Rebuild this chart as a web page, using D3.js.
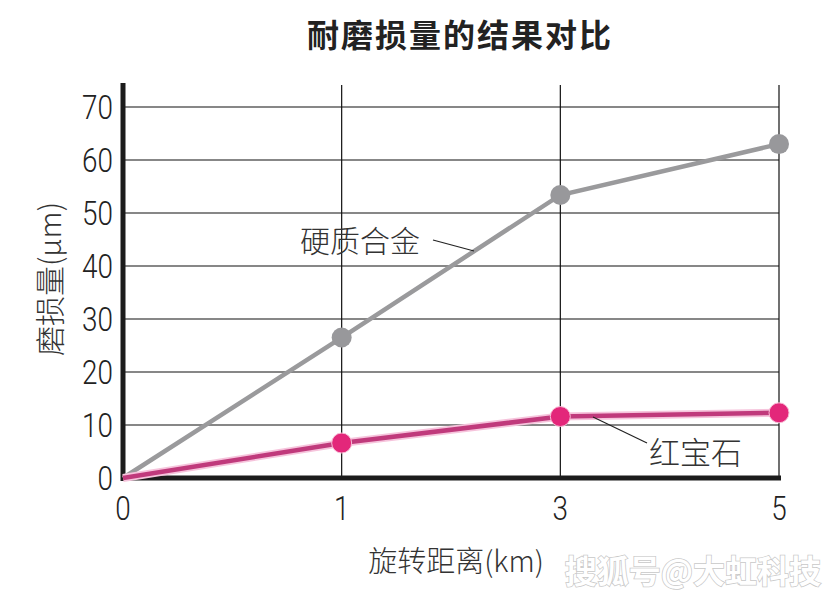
<!DOCTYPE html>
<html>
<head>
<meta charset="utf-8">
<script src="https://cdn.jsdelivr.net/npm/d3@7"></script>
<style>
  body { margin: 0; background: #fff; }
  .cjk { font-family: "Noto Sans CJK SC", "Noto Sans", sans-serif; }
  .num { font-family: "Liberation Sans Narrow", "Roboto", "DejaVu Sans", sans-serif; font-weight: 300; }
</style>
</head>
<body>
<div class="chart"></div>
<script>
// data
const distances = ["0", "1", "3", "5"];
const yTicks = [0, 10, 20, 30, 40, 50, 60, 70];
const alloyValues = [0, 26.5, 53.4, 63.0];
const rubyValues = [0, 6.6, 11.6, 12.3];
const titleText = "耐磨损量的结果对比";
const xTitle = "旋转距离(km)";
const yTitle = "磨损量(μm)";
const alloyName = "硬质合金";
const rubyName = "红宝石";
const watermark = "搜狐号@大虹科技";

const W = 834, H = 595;
const svg = d3.select(".chart").append("svg")
    .attr("width", W)
    .attr("height", H);

const x = d3.scalePoint()
    .domain(distances)
    .range([123, 779]);

const y = d3.scaleLinear()
    .domain([0, 70])
    .range([478, 107]);

// title
svg.append("text")
    .attr("class", "cjk")
    .attr("x", 460)
    .attr("y", 47)
    .attr("text-anchor", "middle")
    .attr("font-size", "32px")
    .attr("font-weight", "bold")
    .attr("letter-spacing", "2px")
    .attr("fill", "#222")
    .text(titleText);

// horizontal grid
svg.append("g")
    .selectAll("line")
    .data(yTicks.filter(d => d > 0))
    .enter().append("line")
    .attr("x1", x("0"))
    .attr("x2", x("5"))
    .attr("y1", d => y(d))
    .attr("y2", d => y(d))
    .attr("stroke", "#111")
    .attr("stroke-width", 1.2);

// vertical grid
svg.append("g")
    .selectAll("line")
    .data(distances.slice(1))
    .enter().append("line")
    .attr("x1", d => x(d))
    .attr("x2", d => x(d))
    .attr("y1", 85)
    .attr("y2", y(0))
    .attr("stroke", "#111")
    .attr("stroke-width", 1.2);

// axes (thick)
svg.append("line")
    .attr("x1", x("0")).attr("x2", x("0"))
    .attr("y1", 83).attr("y2", y(0) + 3)
    .attr("stroke", "#1c1c1c")
    .attr("stroke-width", 5);
svg.append("line")
    .attr("x1", x("0") - 2).attr("x2", x("5") + 2)
    .attr("y1", y(0)).attr("y2", y(0))
    .attr("stroke", "#1c1c1c")
    .attr("stroke-width", 5);

// y tick labels
svg.append("g")
    .selectAll("text")
    .data(yTicks)
    .enter().append("text")
    .attr("class", "num")
    .attr("transform", d => `translate(113,${y(d) + 12}) scale(0.82,1)`)
    .attr("text-anchor", "end")
    .attr("font-size", "34px")
    .attr("fill", "#222")
    .text(d => d);

// x tick labels
svg.append("g")
    .selectAll("text")
    .data(distances)
    .enter().append("text")
    .attr("class", "num")
    .attr("transform", d => `translate(${x(d)},520) scale(0.82,1)`)
    .attr("text-anchor", "middle")
    .attr("font-size", "34px")
    .attr("fill", "#222")
    .text(d => d);

// axis titles
svg.append("text")
    .attr("class", "cjk")
    .attr("x", 456)
    .attr("y", 572)
    .attr("text-anchor", "middle")
    .attr("font-size", "29px")
    .attr("font-weight", 300)
    .attr("fill", "#333")
    .text(xTitle);

svg.append("text")
    .attr("class", "cjk")
    .attr("transform", "translate(61,279) rotate(-90)")
    .attr("text-anchor", "middle")
    .attr("font-size", "30px")
    .attr("font-weight", 300)
    .attr("fill", "#333")
    .text(yTitle);

const line = d3.line()
    .x((d, i) => x(distances[i]))
    .y(d => y(d));

// alloy series
svg.append("path")
    .datum(alloyValues)
    .attr("d", line)
    .attr("fill", "none")
    .attr("stroke", "#9a9a9c")
    .attr("stroke-width", 4.5);
svg.append("g")
    .selectAll("circle")
    .data(alloyValues.slice(1))
    .enter().append("circle")
    .attr("cx", (d, i) => x(distances[i + 1]))
    .attr("cy", d => y(d))
    .attr("r", 10)
    .attr("fill", "#98989b");

// ruby series
svg.append("path")
    .datum(rubyValues)
    .attr("d", line)
    .attr("fill", "none")
    .attr("stroke", "#f6c4dc")
    .attr("stroke-width", 8);
svg.append("path")
    .datum(rubyValues)
    .attr("d", line)
    .attr("fill", "none")
    .attr("stroke", "#c03a7c")
    .attr("stroke-width", 4.5);
svg.append("g")
    .selectAll("circle")
    .data(rubyValues.slice(1))
    .enter().append("circle")
    .attr("cx", (d, i) => x(distances[i + 1]))
    .attr("cy", d => y(d))
    .attr("r", 10)
    .attr("fill", "#e3277a")
    .attr("stroke", "#f8bcd6")
    .attr("stroke-width", 1);

// series labels with leader lines
svg.append("text")
    .attr("class", "cjk")
    .attr("x", 300)
    .attr("y", 252)
    .attr("font-size", "30px")
    .attr("font-weight", 300)
    .attr("fill", "#333")
    .text(alloyName);
svg.append("line")
    .attr("x1", 433).attr("y1", 240)
    .attr("x2", 474).attr("y2", 251)
    .attr("stroke", "#222")
    .attr("stroke-width", 1.2);

svg.append("text")
    .attr("class", "cjk")
    .attr("x", 649)
    .attr("y", 464)
    .attr("font-size", "31px")
    .attr("font-weight", 300)
    .attr("fill", "#333")
    .text(rubyName);
svg.append("line")
    .attr("x1", 593).attr("y1", 417)
    .attr("x2", 647).attr("y2", 443)
    .attr("stroke", "#222")
    .attr("stroke-width", 1.2);

// watermark
svg.append("text")
    .attr("class", "cjk")
    .attr("x", 821)
    .attr("y", 583)
    .attr("text-anchor", "end")
    .attr("font-size", "32px")
    .attr("font-weight", "bold")
    .attr("fill", "#fff")
    .attr("stroke", "#c8c8c8")
    .attr("stroke-width", 1.5)
    .attr("paint-order", "stroke")
    .text(watermark);
</script>
</body>
</html>
